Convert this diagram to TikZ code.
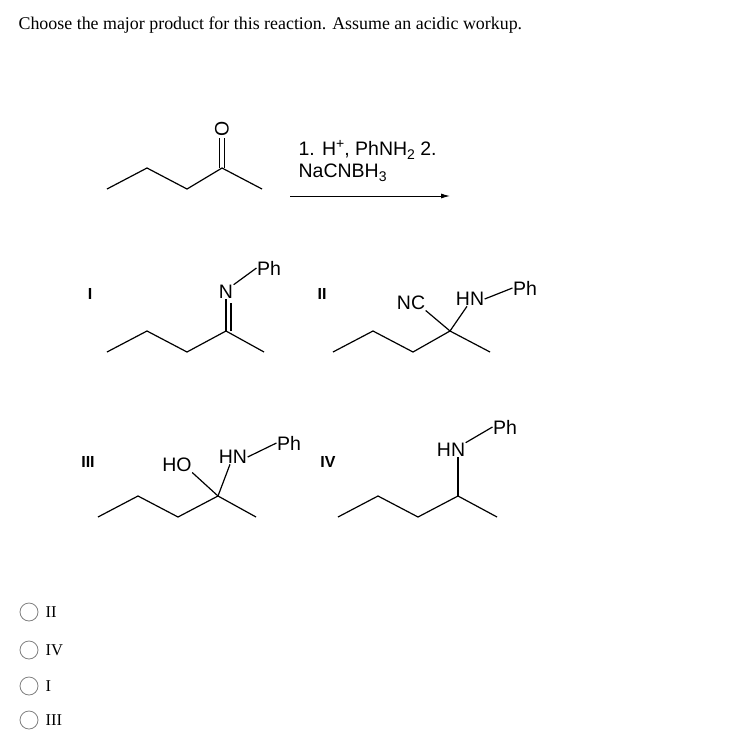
\documentclass[tikz,border=0pt]{standalone}
\usepackage{fontspec}
\setmainfont{Liberation Serif}
\newfontfamily\chem{Liberation Sans}
\usetikzlibrary{arrows.meta}
\newcommand{\sbs}[1]{\raisebox{-0.35ex}{\fontsize{14}{15}\selectfont #1}}
\newcommand{\sps}[1]{\raisebox{0.7ex}{\fontsize{14}{15}\selectfont #1}}
\begin{document}
\begin{tikzpicture}[x=1pt,y=-1pt,line width=1.2pt,
 lab/.style={font=\chem\fontsize{19.5}{22}\selectfont,inner sep=0pt},
 rn/.style={font=\chem\bfseries\fontsize{16}{18}\selectfont,inner sep=0pt},
 opt/.style={font=\fontsize{16.5}{18}\selectfont,inner sep=0pt,anchor=west},
 rad/.style={circle,draw=gray,line width=0.8pt,minimum size=18pt,inner sep=0pt}]
\useasboundingbox (0,0) rectangle (736,753);
\node[anchor=west,inner sep=0pt,font=\fontsize{17.9}{20}\selectfont] (t) at (18,25) {Choose the major product for this reaction. Assume an acidic workup.};
% reactant
\coordinate (a1) at (107,189);\coordinate (a2) at (147,168);\coordinate (a3) at (187,189);\coordinate (a4) at (222,168);\coordinate (a5) at (262,189);
\node[lab,rotate=90] (O) at (222,129) {O};
\draw (a1)--(a2)--(a3)--(a4)--(a5);
\draw ([xshift=-2.5pt]a4)--++(0,-30);\draw ([xshift=2.5pt]a4)--++(0,-30);
\node[lab,anchor=west] (r1) at (298,150) {1. H\sps{+}, PhNH\sbs{2} 2.};
\node[lab,anchor=west] (r2) at (298,173) {NaCNBH\sbs{3}};
\coordinate (s) at (290,196);\coordinate (e) at (450,196);
\draw[line width=1pt,-{Latex[length=9pt,width=5pt]}] (s)--(e);
% I
\node[rn] (L1) at (90,294) {I};
\coordinate (b1) at (107,352);\coordinate (b2) at (147,331);\coordinate (b3) at (187,352);\coordinate (b4) at (226,331);\coordinate (b5) at (264,352);
\draw (b1)--(b2)--(b3)--(b4)--(b5);
\node[lab] (N1) at (226,292) {N};
\draw (b4)--(N1.south);\draw ([xshift=5pt]b4)--([xshift=5pt,yshift=-4pt]b4|-N1.south);
\node[lab] (P1) at (269,268) {Ph};
\draw (N1.north east)--(P1.west);
% II
\node[rn] (L2) at (322,294) {II};
\coordinate (c1) at (333,352);\coordinate (c2) at (373,331);\coordinate (c3) at (413,352);\coordinate (c4) at (450,331);\coordinate (c5) at (490,352);
\draw (c1)--(c2)--(c3)--(c4)--(c5);
\node[lab] (NC) at (411,303) {NC};
\node[lab] (HN2) at (470,299) {HN};
\node[lab] (P2) at (525,288) {Ph};
\draw (c4)--(NC.south east);\draw (c4)--([xshift=-3pt]HN2.south);\draw (HN2.east)--(P2.west);
% III
\node[rn] (L3) at (88,462) {III};
\coordinate (d1) at (98,517);\coordinate (d2) at (138,496);\coordinate (d3) at (178,517);\coordinate (d4) at (218,496);\coordinate (d5) at (256,517);
\draw (d1)--(d2)--(d3)--(d4)--(d5);
\node[lab] (HO) at (177,465) {HO};
\node[lab] (HN3) at (233,457) {HN};
\node[lab] (P3) at (289,443) {Ph};
\draw (d4)--(HO.south east);\draw (d4)--([xshift=-3pt]HN3.south);\draw (HN3.east)--(P3.west);
% IV
\node[rn] (L4) at (328,462) {IV};
\coordinate (f1) at (338,517);\coordinate (f2) at (378,496);\coordinate (f3) at (418,517);\coordinate (f4) at (458,496);\coordinate (f5) at (497,517);
\draw (f1)--(f2)--(f3)--(f4)--(f5);
\node[lab] (HN4) at (451,450) {HN};
\node[lab] (P4) at (505,427) {Ph};
\draw (f4)--([xshift=7pt]HN4.south);\draw (HN4.north east)--(P4.west);
% options
\node[rad] (o1) at (29,612) {};\node[opt] (t1) at (45,612) {II};
\node[rad] (o2) at (29,650) {};\node[opt] (t2) at (45,650) {IV};
\node[rad] (o3) at (29,686) {};\node[opt] (t3) at (45,686) {I};
\node[rad] (o4) at (29,720) {};\node[opt] (t4) at (45,720) {III};
\end{tikzpicture}
\end{document}
